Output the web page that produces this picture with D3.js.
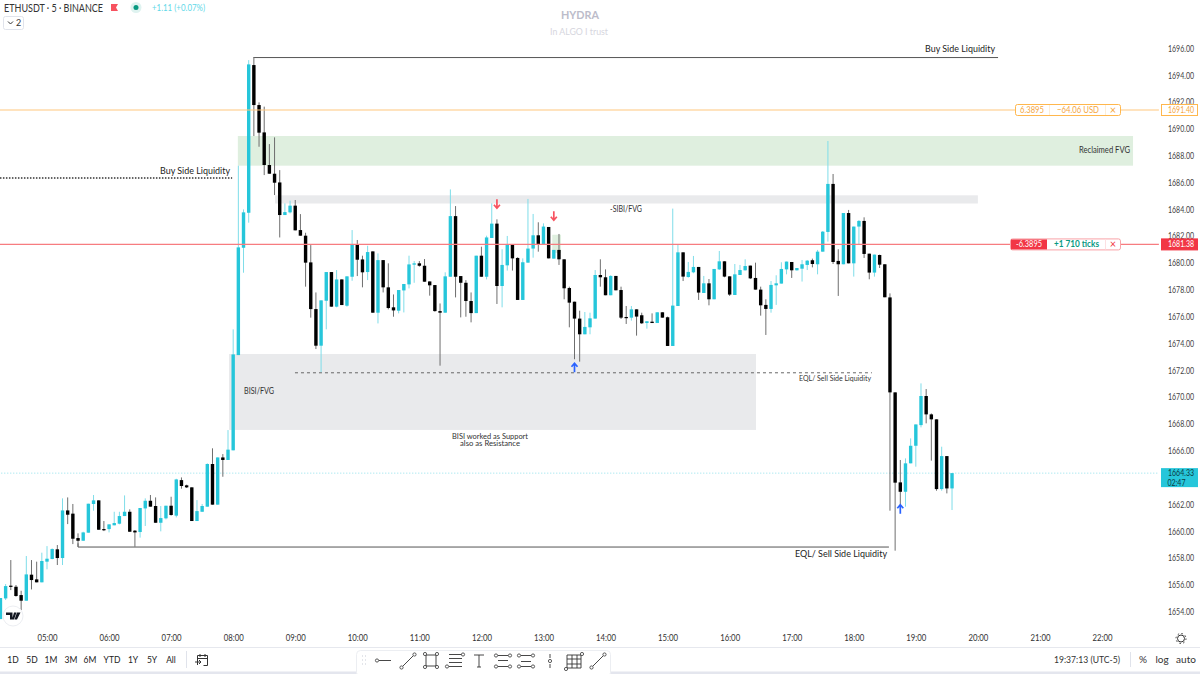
<!DOCTYPE html>
<html>
<head>
<meta charset="utf-8">
<script src="https://cdn.jsdelivr.net/npm/d3@7"></script>
<style>
  html, body { margin: 0; padding: 0; background: #fff; }
  svg { display: block; }
  text { font-family: Lato, Roboto, sans-serif; }
</style>
</head>
<body>
<svg id="chart" width="1200" height="674"></svg>
<script>
// bars are 5 minutes apart, bar 0 is the 05:00 bar
var firstBar = -9;

var opens = [
  1653.45, 1654.99, 1655.94, 1655.86, 1655.24, 1654.82, 1656.76, 1656.41, 1656.19,
  1657.73, 1657.93, 1658.65, 1658.00, 1661.55, 1661.31, 1659.49, 1659.29, 1659.89, 1662.03,
  1662.30, 1660.16, 1660.16, 1660.44, 1660.56, 1661.13, 1661.45, 1660.04, 1659.94, 1661.70,
  1662.27, 1661.88, 1660.63, 1660.96, 1661.90, 1661.16, 1663.81, 1663.42, 1663.27, 1660.76,
  1661.45, 1661.83, 1665.01, 1661.98, 1665.50, 1665.31, 1666.03, 1673.13, 1681.13, 1683.74,
  1694.75, 1691.77, 1689.73, 1687.30, 1686.65, 1686.00, 1683.57, 1683.77, 1684.27, 1682.45,
  1682.03, 1680.04, 1676.56, 1673.83, 1677.18, 1679.32, 1676.74, 1678.77, 1676.81, 1678.97,
  1681.41, 1680.26, 1679.32, 1680.86, 1676.29, 1680.21, 1678.18, 1676.69, 1676.44, 1677.95,
  1678.40, 1679.87, 1679.97, 1679.79, 1678.62, 1678.35, 1676.41, 1676.29, 1678.97, 1683.49,
  1679.02, 1678.52, 1677.16, 1676.26, 1680.54, 1678.97, 1681.86, 1682.93, 1678.28, 1679.82,
  1681.36, 1680.37, 1677.24, 1680.02, 1681.07, 1682.06, 1681.41, 1682.68, 1680.32, 1680.97,
  1680.27, 1678.13, 1677.11, 1675.85, 1674.68, 1675.20, 1675.85, 1679.10, 1678.93, 1677.59,
  1679.03, 1677.98, 1675.97, 1675.92, 1676.54, 1676.10, 1675.52, 1675.62, 1675.52, 1676.32,
  1675.95, 1673.81, 1676.79, 1680.79, 1678.95, 1679.30, 1679.70, 1677.76, 1678.48, 1677.29,
  1679.52, 1680.12, 1679.00, 1677.61, 1679.10, 1679.45, 1679.80, 1678.88, 1678.01, 1676.87,
  1676.57, 1678.33, 1678.46, 1679.52, 1680.07, 1679.45, 1679.57, 1679.85, 1680.20, 1679.90,
  1680.84, 1682.31, 1685.89, 1680.15, 1679.90, 1683.72, 1679.97, 1682.71, 1683.13, 1680.69,
  1679.28, 1680.59, 1679.90, 1677.43, 1670.35, 1663.64, 1662.94, 1665.06, 1666.37, 1667.91,
  1670.08, 1668.71, 1668.34, 1663.14, 1665.60, 1663.19
];
var highs = [
  1655.02, 1656.06, 1657.85, 1655.99, 1655.56, 1658.15, 1657.85, 1657.73, 1658.40,
  1658.89, 1658.72, 1658.97, 1662.45, 1662.52, 1662.03, 1659.84, 1659.96, 1662.05, 1662.70,
  1662.30, 1660.76, 1660.51, 1661.45, 1661.45, 1662.67, 1661.63, 1660.09, 1661.73, 1662.45,
  1662.70, 1662.52, 1661.88, 1661.90, 1662.57, 1663.91, 1664.01, 1663.47, 1663.27, 1662.32,
  1662.03, 1665.06, 1666.18, 1665.50, 1665.75, 1667.54, 1675.05, 1687.25, 1683.99, 1695.12,
  1695.35, 1691.97, 1691.65, 1688.86, 1689.36, 1686.92, 1684.44, 1684.64, 1684.69, 1683.64,
  1682.25, 1681.33, 1677.80, 1677.21, 1679.32, 1679.32, 1679.47, 1678.77, 1679.00, 1682.45,
  1681.71, 1680.54, 1681.28, 1680.86, 1680.71, 1680.21, 1679.97, 1677.65, 1677.98, 1678.43,
  1680.54, 1680.14, 1680.14, 1680.29, 1678.62, 1678.35, 1676.98, 1679.30, 1685.48, 1684.24,
  1679.02, 1678.72, 1677.80, 1680.54, 1681.21, 1682.03, 1684.44, 1683.25, 1681.02, 1682.01,
  1681.36, 1680.42, 1680.34, 1684.77, 1683.65, 1683.03, 1682.95, 1682.68, 1680.97, 1682.16,
  1680.27, 1678.23, 1677.11, 1676.44, 1676.34, 1676.29, 1679.47, 1680.27, 1679.52, 1679.08,
  1679.03, 1678.23, 1676.79, 1676.79, 1676.54, 1676.29, 1675.65, 1676.24, 1676.32, 1676.32,
  1676.00, 1684.05, 1681.41, 1680.79, 1680.07, 1680.52, 1679.70, 1679.03, 1678.80, 1679.55,
  1680.89, 1680.12, 1679.00, 1679.92, 1679.85, 1680.27, 1679.80, 1680.02, 1678.23, 1677.29,
  1678.65, 1679.08, 1680.05, 1680.10, 1680.07, 1679.62, 1680.22, 1680.22, 1680.32, 1680.97,
  1682.38, 1689.09, 1686.63, 1681.02, 1683.72, 1683.95, 1682.71, 1683.20, 1683.40, 1680.69,
  1680.62, 1680.62, 1679.90, 1677.73, 1670.35, 1665.31, 1665.43, 1666.92, 1667.96, 1671.02,
  1670.60, 1668.78, 1668.34, 1666.30, 1665.60, 1664.33
];
var lows = [
  1653.45, 1654.87, 1655.61, 1655.12, 1654.12, 1654.82, 1655.66, 1656.19, 1656.19,
  1657.16, 1657.90, 1657.48, 1657.48, 1660.53, 1659.04, 1658.84, 1659.29, 1659.89, 1661.53,
  1660.11, 1660.01, 1659.91, 1660.44, 1660.51, 1661.13, 1659.96, 1658.84, 1659.52, 1660.39,
  1661.83, 1660.63, 1659.99, 1660.88, 1661.16, 1661.03, 1663.17, 1663.22, 1660.76, 1660.76,
  1661.45, 1661.83, 1661.98, 1661.98, 1664.06, 1665.31, 1666.03, 1673.13, 1679.27, 1683.00,
  1689.46, 1688.66, 1686.55, 1686.65, 1685.06, 1681.90, 1683.57, 1683.69, 1682.43, 1682.03,
  1678.23, 1675.92, 1673.58, 1671.86, 1675.05, 1676.74, 1676.69, 1676.86, 1676.74, 1678.67,
  1679.02, 1678.18, 1678.72, 1676.29, 1675.49, 1677.80, 1676.54, 1675.99, 1676.24, 1676.31,
  1678.10, 1678.52, 1679.72, 1678.60, 1677.56, 1676.36, 1672.34, 1676.29, 1678.97, 1677.43,
  1675.94, 1675.99, 1675.57, 1676.26, 1678.97, 1678.77, 1681.86, 1676.94, 1676.69, 1679.43,
  1679.43, 1677.24, 1677.24, 1680.02, 1680.39, 1680.84, 1681.41, 1680.34, 1680.32, 1679.85,
  1677.29, 1675.20, 1672.82, 1672.64, 1674.68, 1674.68, 1675.85, 1678.23, 1677.59, 1677.59,
  1677.96, 1675.82, 1675.45, 1675.70, 1674.58, 1675.45, 1675.10, 1675.52, 1675.52, 1675.92,
  1673.81, 1673.81, 1676.79, 1678.65, 1678.90, 1679.23, 1677.24, 1677.76, 1676.84, 1677.29,
  1679.47, 1678.93, 1677.54, 1677.61, 1679.10, 1679.43, 1678.80, 1678.01, 1676.07, 1674.63,
  1676.29, 1676.87, 1678.46, 1679.15, 1678.88, 1679.43, 1678.61, 1679.47, 1679.67, 1679.15,
  1680.84, 1681.59, 1679.92, 1677.54, 1679.90, 1679.97, 1678.98, 1681.41, 1680.37, 1678.78,
  1678.98, 1679.62, 1677.44, 1661.53, 1658.55, 1661.93, 1661.83, 1665.06, 1664.81, 1667.74,
  1668.04, 1665.26, 1663.02, 1663.02, 1662.82, 1661.58
];
var closes = [
  1655.02, 1655.91, 1655.86, 1655.17, 1654.82, 1656.78, 1656.36, 1656.19, 1657.78,
  1657.95, 1658.67, 1658.00, 1661.55, 1661.23, 1659.44, 1659.29, 1659.91, 1662.05, 1662.30,
  1660.11, 1660.09, 1660.51, 1660.61, 1661.13, 1661.45, 1659.96, 1659.91, 1661.73, 1662.27,
  1661.83, 1660.63, 1660.98, 1661.90, 1661.21, 1663.86, 1663.37, 1663.27, 1660.76, 1661.50,
  1661.88, 1665.01, 1661.98, 1665.50, 1665.31, 1666.08, 1673.18, 1681.16, 1683.77, 1694.80,
  1691.77, 1689.71, 1687.30, 1686.65, 1685.98, 1683.57, 1683.79, 1684.27, 1682.43, 1682.03,
  1680.02, 1676.56, 1673.83, 1677.21, 1679.32, 1676.74, 1678.77, 1676.86, 1679.00, 1681.41,
  1680.24, 1679.30, 1680.81, 1676.29, 1680.21, 1678.18, 1676.64, 1676.46, 1677.98, 1678.43,
  1679.89, 1679.97, 1679.79, 1678.60, 1678.33, 1676.41, 1676.29, 1679.00, 1683.49, 1678.97,
  1678.52, 1677.16, 1676.26, 1680.54, 1678.97, 1681.90, 1682.93, 1678.28, 1679.85, 1681.36,
  1680.34, 1677.24, 1680.05, 1681.07, 1682.06, 1681.41, 1682.71, 1680.34, 1680.97, 1680.27,
  1678.11, 1677.04, 1675.85, 1674.68, 1675.23, 1675.87, 1679.10, 1678.93, 1677.59, 1679.03,
  1677.96, 1675.92, 1675.92, 1676.54, 1676.00, 1675.50, 1675.65, 1675.52, 1676.32, 1675.92,
  1673.81, 1676.82, 1680.79, 1678.98, 1679.33, 1679.70, 1677.79, 1678.48, 1677.29, 1679.55,
  1680.12, 1678.98, 1677.64, 1679.15, 1679.47, 1679.77, 1678.85, 1678.01, 1676.84, 1676.57,
  1678.36, 1678.48, 1679.55, 1680.10, 1679.45, 1679.62, 1679.90, 1680.17, 1679.92, 1680.84,
  1682.33, 1685.89, 1680.07, 1679.90, 1683.72, 1679.97, 1682.71, 1683.13, 1680.67, 1679.28,
  1680.62, 1679.87, 1677.44, 1670.35, 1663.62, 1662.94, 1665.06, 1666.37, 1667.96, 1670.08,
  1668.71, 1668.34, 1663.14, 1665.60, 1663.19, 1664.33
];

// 1664.00 sits under the last price tag in the reference
var priceTicks = [1654, 1656, 1658, 1660, 1662, 1666, 1668, 1670, 1672, 1674, 1676, 1678, 1680, 1682,
  1684, 1686, 1688, 1690, 1692, 1694, 1696];
var timeTicks = d3.range(0, 18).map(function(h) { return h * 12; });
var timeLabels = ["05:00","06:00","07:00","08:00","09:00","10:00","11:00","12:00","13:00","14:00",
  "15:00","16:00","17:00","18:00","19:00","20:00","21:00","22:00"];
var rangeLabels = ["1D","5D","1M","3M","6M","YTD","1Y","5Y","All"];
var rangeLabelX = [13, 32, 51, 71, 90, 112, 133, 152, 171];

var askPrice = 1691.40, bidPrice = 1681.38, lastPrice = 1664.33;

var cyan = "#26c6da", orange = "#ffb74d", red = "#f23645";

var svg = d3.select("#chart");

var x = d3.scaleLinear().domain([0, 204]).range([47, 1102]);
var y = d3.scaleLinear().domain([1696, 1654]).range([48.3, 611.7]);

// fitW squeezes the text to the width it has in the reference
function label(txt, px, py, size, color, anchor, weight, fitW) {
  var t = svg.append("text").attr("x", px).attr("y", py)
    .attr("font-size", size).attr("fill", color)
    .attr("text-anchor", anchor || "start")
    .attr("font-weight", weight || 400)
    .text(txt);
  if (fitW) t.attr("textLength", fitW).attr("lengthAdjust", "spacingAndGlyphs");
  return t;
}

function zone(b0, b1, p0, p1, color) {
  svg.append("rect").attr("x", x(b0)).attr("width", x(b1) - x(b0))
    .attr("y", y(p0)).attr("height", y(p1) - y(p0)).attr("fill", color);
}

function hline(b0, b1, p, color, w, dash) {
  svg.append("line").attr("x1", x(b0)).attr("x2", x(b1))
    .attr("y1", y(p)).attr("y2", y(p))
    .attr("stroke", color).attr("stroke-width", w)
    .attr("stroke-dasharray", dash || null);
}

function arrow(bar, p, dir, color) {
  var px = x(bar), py = y(p);
  svg.append("path")
    .attr("d", "M" + px + "," + py + "v" + (dir * 9) +
      "M" + (px - 3) + "," + (py + dir * 5.5) + "L" + px + "," + (py + dir * 9) + "L" + (px + 3) + "," + (py + dir * 5.5))
    .attr("fill", "none").attr("stroke", color).attr("stroke-width", 1.7);
}

// zones sit behind the candles
zone(36.9, 210, 1689.46, 1687.25, "#dfefdf");
zone(44.1, 180, 1685.04, 1684.43, "#e9eaec");
zone(35.2, 137.1, 1673.21, 1667.55, "#e9eaec");
zone(97.7, 99.4, 1682.1, 1680.75, "#dfefdf");

hline(-10, 215, lastPrice, "#8fe0ea", 1, "1,2");

// structure lines
svg.append("path")
  .attr("d", "M" + x(40) + "," + y(1695.35) + "V" + y(1695.31) + "H" + x(183.9))
  .attr("fill", "none").attr("stroke", "#555").attr("stroke-width", 1);
svg.append("path")
  .attr("d", "M" + x(6) + "," + y(1659.1) + "V" + y(1658.82) + "H" + x(162.8))
  .attr("fill", "none").attr("stroke", "#555").attr("stroke-width", 1);
hline(-9.1, 35.8, 1686.33, "#333", 1.4, "1.5,1.5");
hline(47.95, 159.5, 1671.81, "#666", 1, "3,3");

// candles
var bars = d3.range(opens.length).map(function(i) {
  return { bar: firstBar + i, open: opens[i], high: highs[i], low: lows[i], close: closes[i] };
});

var candle = svg.append("g").selectAll("g").data(bars).enter().append("g");

candle.append("line")
  .attr("x1", function(d) { return x(d.bar); })
  .attr("x2", function(d) { return x(d.bar); })
  .attr("y1", function(d) { return y(d.high); })
  .attr("y2", function(d) { return y(d.low); })
  .attr("stroke", function(d) { return d.close >= d.open ? "#7fdde9" : "#6e6e6e"; })
  .attr("stroke-width", 1);

candle.append("rect")
  .attr("x", function(d) { return x(d.bar) - 1.7; })
  .attr("width", 3.4)
  .attr("y", function(d) { return y(Math.max(d.open, d.close)); })
  .attr("height", function(d) { return Math.max(1.2, Math.abs(y(d.open) - y(d.close))); })
  .attr("fill", function(d) { return d.close >= d.open ? cyan : "#000"; });

// order lines go over the candles
hline(-10, 215, askPrice, "#ffc77f", 1.2);
hline(-10, 215, bidPrice, "#f77c80", 1.2);

arrow(87, 1684.75, 1, "#f7525f");
arrow(98, 1683.85, 1, "#f7525f");
arrow(102, 1671.85, -1, "#2962ff");
arrow(165, 1661.3, -1, "#2962ff");

// annotation text
label("Buy Side Liquidity", 995, 52, 9.5, "#222", "end", 400, 70);
label("Buy Side Liquidity", 230, 174, 9.5, "#222", "end", 400, 70);
label("Reclaimed FVG", 1130, 153, 8.5, "#333", "end", 400, 51);
label("-SIBI/FVG", 626, 212, 8.5, "#333", "middle", 400, 32);
label("BISI/FVG", 244, 394, 8.5, "#333", "start", 400, 30);
label("EQL/ Sell Side Liquidity", 835, 381, 8, "#333", "middle", 400, 72);
label("BISI worked as Support", 490, 438.5, 7.5, "#333", "middle", 400, 76);
label("also as Resistance", 490, 446, 7.5, "#333", "middle", 400, 60);
label("EQL/ Sell Side Liquidity", 887, 557, 9.5, "#222", "end", 400, 92);

// header
label("HYDRA", 580, 19, 12, "#bcbcca", "middle", 700, 38);
label("In ALGO I trust", 579, 35, 9.5, "#d6d6de", "middle", 400, 58);
label("ETHUSDT · 5 · BINANCE", 4, 11.5, 10.5, "#333", "start", 400, 99);
svg.append("path").attr("d", "M111,4h7l-2,3.5l2,3.5h-7z").attr("fill", "#f7525f");
svg.append("circle").attr("cx", 136).attr("cy", 7.5).attr("r", 5.5).attr("fill", "#dff3f0");
svg.append("circle").attr("cx", 136).attr("cy", 7.5).attr("r", 2.5).attr("fill", "#089981");
label("+1.11 (+0.07%)", 152, 11, 9.5, "#5fd8e8", "start", 400, 53);
svg.append("rect").attr("x", 3.5).attr("y", 16.5).attr("width", 20).attr("height", 13).attr("rx", 2)
  .attr("fill", "#fff").attr("stroke", "#e0e3eb");
svg.append("path").attr("d", "M8,21.5l2.5,2.5l2.5,-2.5").attr("fill", "none").attr("stroke", "#333");
label("2", 16, 26, 9, "#333");

// TV logo
svg.append("circle").attr("cx", 13).attr("cy", 616).attr("r", 10).attr("fill", "#fff").attr("stroke", "#eceef2");
svg.append("path").attr("d", "M6,612.5h6.5v7h-2.5v-4.5h-4zM14,612.5h2.5l-2.5,7h-2zM17,612.5h3.5l-3.5,7h-2.5z").attr("fill", "#131722");

// price axis
var yAxis = d3.axisRight(y).tickValues(priceTicks).tickSize(0).tickPadding(0)
  .tickFormat(function(d) { return d3.format(".2f")(d); });
var yG = svg.append("g").attr("transform", "translate(1168,0)").call(yAxis);
yG.select(".domain").remove();
yG.selectAll("text").attr("font-size", 9).attr("fill", "#444")
  .attr("textLength", 26).attr("lengthAdjust", "spacingAndGlyphs")
  .style("font-family", 'Lato, Roboto, sans-serif');

// time axis
var xAxis = d3.axisBottom(x).tickValues(timeTicks).tickSize(0).tickPadding(0)
  .tickFormat(function(d, i) { return timeLabels[i]; });
var xG = svg.append("g").attr("transform", "translate(0,634.5)").call(xAxis);
xG.select(".domain").remove();
xG.selectAll("text").attr("font-size", 9).attr("fill", "#333")
  .attr("textLength", 20).attr("lengthAdjust", "spacingAndGlyphs")
  .style("font-family", 'Lato, Roboto, sans-serif');

// price tags on the axis
function priceTag(p, fill, stroke, color) {
  svg.append("rect").attr("x", 1161.5).attr("y", y(p) - 5.5).attr("width", 36).attr("height", 11)
    .attr("fill", fill).attr("stroke", stroke);
  label(d3.format(".2f")(p), 1194, y(p) + 3, 9, color, "end", 400, 26);
}
priceTag(askPrice, "#fff", orange, "#f5a742");
priceTag(bidPrice, red, red, "#fff");

svg.append("rect").attr("x", 1161).attr("y", y(lastPrice) - 5).attr("width", 37).attr("height", 19).attr("fill", cyan);
label(d3.format(".2f")(lastPrice), 1194, y(lastPrice) + 3, 9, "#0c3a42", "end", 400, 26);
label("02:47", 1167.5, y(lastPrice) + 12.5, 8.5, "#0c3a42", "start", 400, 18);

// order boxes
var askY = y(askPrice), bidY = y(bidPrice);
svg.append("rect").attr("x", 1015.5).attr("y", askY - 5.5).attr("width", 105).attr("height", 11).attr("rx", 2)
  .attr("fill", "#fff").attr("stroke", orange);
label("6.3895", 1020, askY + 3, 9, "#f5a742", "start", 400, 24);
label("−64.06 USD", 1057, askY + 3, 9, "#f5a742", "start", 400, 42);
label("×", 1113, askY + 3.5, 11, "#f5a742", "middle");
svg.append("line").attr("x1", 1049.5).attr("x2", 1049.5).attr("y1", askY - 5).attr("y2", askY + 5).attr("stroke", "#fdeed8");
svg.append("line").attr("x1", 1105.5).attr("x2", 1105.5).attr("y1", askY - 5).attr("y2", askY + 5).attr("stroke", "#fdeed8");

svg.append("rect").attr("x", 1010.5).attr("y", bidY - 5.5).attr("width", 110).attr("height", 11).attr("rx", 2)
  .attr("fill", "#fff").attr("stroke", "#f9a3a8");
svg.append("rect").attr("x", 1011).attr("y", bidY - 5).attr("width", 36).attr("height", 10).attr("fill", red);
label("-6.3895", 1029, bidY + 3, 9, "#fff", "middle", 400, 26);
label("+1 710 ticks", 1076.5, bidY + 3, 9, "#089981", "middle", 700, 45);
label("×", 1113, bidY + 3.5, 11, red, "middle");
svg.append("line").attr("x1", 1105.5).attr("x2", 1105.5).attr("y1", bidY - 5).attr("y2", bidY + 5).attr("stroke", "#fde0e2");

// gear
svg.append("circle").attr("cx", 1181).attr("cy", 638.5).attr("r", 3.5).attr("fill", "none").attr("stroke", "#333");
svg.append("circle").attr("cx", 1181).attr("cy", 638.5).attr("r", 5).attr("fill", "none").attr("stroke", "#333").attr("stroke-dasharray", "1.5,2.4");

// bottom bar
svg.append("line").attr("x1", 0).attr("x2", 1200).attr("y1", 647.5).attr("y2", 647.5).attr("stroke", "#e6e8ee");
svg.append("rect").attr("x", 0).attr("y", 671.5).attr("width", 1200).attr("height", 2.5).attr("fill", "#e4e6ee");

rangeLabels.forEach(function(d, i) {
  label(d, rangeLabelX[i], 663, 8.5, "#222", "middle");
});
svg.append("line").attr("x1", 186.5).attr("x2", 186.5).attr("y1", 651).attr("y2", 668).attr("stroke", "#e0e3eb");
svg.append("path").attr("d", "M197.5,655.5h10v10h-4M197.5,665v-9.5M197.5,658.5h10M200,654v3M205,654v3M195,662h6M199,660l2,2l-2,2")
  .attr("fill", "none").attr("stroke", "#333");

label("19:37:13 (UTC-5)", 1120, 663, 9.5, "#333", "end", 400, 66);
svg.append("line").attr("x1", 1130.5).attr("x2", 1130.5).attr("y1", 652).attr("y2", 667).attr("stroke", "#e0e3eb");
label("%", 1143, 663, 10, "#333", "middle");
label("log", 1162, 663, 10, "#333", "middle");
label("auto", 1186, 663, 10, "#333", "middle");

// drawing toolbar
svg.append("rect").attr("x", 356.5).attr("y", 650.5).attr("width", 254).attr("height", 26).attr("rx", 4)
  .attr("fill", "#fff").attr("stroke", "#eceef2");
var toolIcons = [
  "M379,660.5h12",
  "M403,666L413,656",
  "M426,655h10v11h-10z",
  "M449,654.5h13M449,658.5h13M449,662.5h13M449,666.5h13",
  "M474,655h10M479,655v12M477,667h4",
  "M498,655.5h10M498,660.5h10M498,666.5h10",
  "M521,655.5h10M521,661.5h10M521,666.5h10",
  "M550,654v4M550,664v4",
  "M567,655h14v13h-14zM567,659h14M567,664h14M572,655v13M577,655v13",
  "M593,666L603,656"
];
var toolNodes = [[377,660.5],[401.5,667.5],[414.5,654.5],[425,654],[437,654],[425,667],[437,667],
  [447,666.5],[463,654.5],[496,655.5],[510,655.5],[496,666.5],[510,666.5],[519,655.5],[533,655.5],
  [519,666.5],[533,666.5],[550,661],[566,669],[582,654],[591.5,667.5],[604.5,654.5]];
svg.append("g").selectAll("path").data(toolIcons).enter().append("path")
  .attr("d", function(d) { return d; })
  .attr("fill", "none").attr("stroke", "#333").attr("stroke-width", 0.9);
svg.append("g").selectAll("circle").data(toolNodes).enter().append("circle")
  .attr("cx", function(d) { return d[0]; })
  .attr("cy", function(d) { return d[1]; })
  .attr("r", 1.6).attr("fill", "#fff").attr("stroke", "#333").attr("stroke-width", 0.8);
svg.append("path").attr("d", "M362,656h1M365,656h1M362,660h1M365,660h1M362,664h1M365,664h1")
  .attr("stroke", "#c8ccd6").attr("stroke-width", 1.2);
</script>
</body>
</html>
